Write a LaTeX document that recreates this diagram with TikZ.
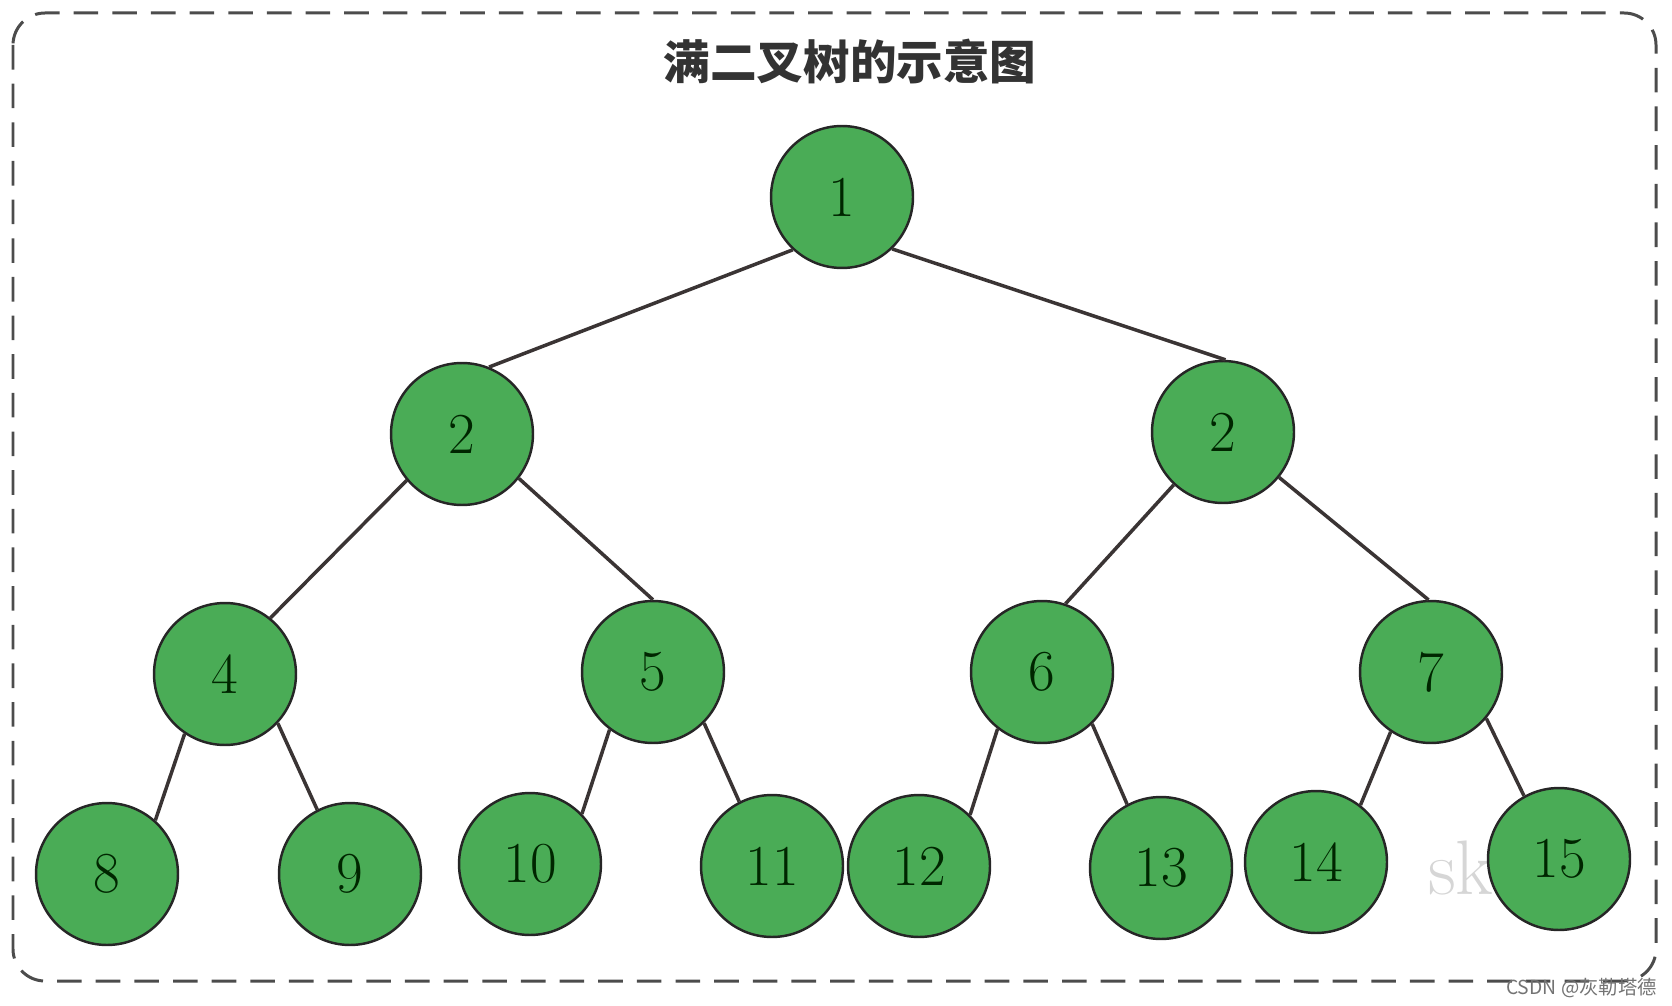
\documentclass[tikz,border=0pt]{standalone}
\usepackage{fontspec}
\usepackage{xcolor}
\newfontfamily\cjk{Noto Sans CJK SC}
\definecolor{nodegreen}{RGB}{74,172,86}
\definecolor{edgegray}{RGB}{58,52,52}
\tikzset{
    treenode/.style={circle, draw=black!85, line width=1.4pt, fill=nodegreen,
        minimum size=2.84cm, inner sep=0pt, text=black!85!green,
        font=\fontsize{33}{33}\selectfont},
    treeedge/.style={draw=edgegray, line width=2pt},
}

\begin{document}
\begin{tikzpicture}[x=0.02cm, y=-0.02cm]
            \useasboundingbox (0,0) rectangle (1672,1006);

            %% frame
            \draw[black!70, line width=1.7pt, dash pattern=on 14pt off 8pt, rounded corners=0.64cm]
                (13,13) rectangle (1656,981);
            \node[font=\cjk\bfseries\fontsize{26.5}{26.5}\selectfont, text=black!80] (title) at (850,62) {满二叉树的示意图};

            %% watermark behind 15
            \node[anchor=west, text=black!16, font=\fontsize{44}{44}\selectfont] (wm) at (1422,868) {sk};

            %% tree
            \node[treenode] (n1)  at (842,197)  {1};
            \node[treenode] (n2a) at (462,434)  {2};
            \node[treenode] (n2b) at (1223,432) {2};
            \node[treenode] (n4)  at (225,674)  {4};
            \node[treenode] (n5)  at (653,672)  {5};
            \node[treenode] (n6)  at (1042,672) {6};
            \node[treenode] (n7)  at (1431,672) {7};
            \node[treenode] (n8)  at (107,874)  {8};
            \node[treenode] (n9)  at (350,874)  {9};
            \node[treenode] (n10) at (530,864)  {10};
            \node[treenode] (n11) at (772,866)  {11};
            \node[treenode] (n12) at (919,866)  {12};
            \node[treenode] (n13) at (1161,868) {13};
            \node[treenode] (n14) at (1316,862) {14};
            \node[treenode] (n15) at (1559,859) {15};

            \draw[treeedge] (n1.227) -- (n2a.68);
            \draw[treeedge] (n1.314) -- (n2b.88);
            \draw[treeedge] (n2a.220) -- (n4.51);
            \draw[treeedge] (n2a.322) -- (n5.90);
            \draw[treeedge] (n2b.227) -- (n6.71);
            \draw[treeedge] (n2b.321) -- (n7.92);
            \draw[treeedge] (n4.236) -- (n8.48);
            \draw[treeedge] (n4.317) -- (n9.117);
            \draw[treeedge] (n5.233) -- (n10.44);
            \draw[treeedge] (n5.315) -- (n11.117);
            \draw[treeedge] (n6.232) -- (n12.45);
            \draw[treeedge] (n6.314) -- (n13.118);
            \draw[treeedge] (n7.236) -- (n14.52);
            \draw[treeedge] (n7.320) -- (n15.119);

            \node[anchor=east, text=black!55, font=\cjk\fontsize{11}{11}\selectfont, inner sep=0pt] (csdn) at (1657,988) {CSDN @灰勒塔德};
\end{tikzpicture}
\end{document}
